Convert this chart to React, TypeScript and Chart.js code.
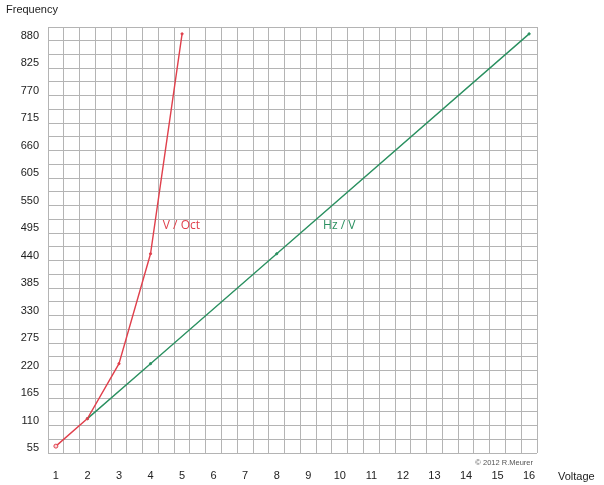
import { useEffect, useRef } from 'react';
import { Chart, registerables } from 'chart.js';

Chart.register(...registerables);

// ---- data ----
const vOctVoltage = [1, 2, 3, 4, 5];
const vOctFreq = [55, 110, 220, 440, 880];
const hzVVoltage = [2, 4, 8, 16];
const hzVFreq = [110, 220, 440, 880];
const xTickLabels = [1, 2, 3, 4, 5, 6, 7, 8, 9, 10, 11, 12, 13, 14, 15, 16];
const yTickLabels = [55, 110, 165, 220, 275, 330, 385, 440, 495, 550, 605, 660, 715, 770, 825, 880];

const seriesNames = ['V / Oct', 'Hz / V'];
const xTitle = 'Voltage';
const yTitle = 'Frequency';
const credit = '\u00a9 2012 R.Meurer';

const RED = '#e0404c';
const GREEN = '#2a9060';
const GRID = '#b4b4b4';
const TEXT = '#222222';

function withMidpoints(vals: number[]): number[] {
  const out: number[] = [];
  vals.forEach((v, i) => {
    out.push(v);
    if (i < vals.length - 1) out.push((v + vals[i + 1]) / 2);
  });
  return out;
}

const xQuarter = (xTickLabels[1] - xTickLabels[0]) / 4;
const yQuarter = (yTickLabels[1] - yTickLabels[0]) / 4;

const textPlugin = {
  id: 'freeTexts',
  afterDraw(chart: any) {
    const { ctx, scales } = chart;
    const x = scales.x;
    const y = scales.y;
    ctx.save();
    // series labels at data positions
    ctx.font = '12px "Open Sans", "Liberation Sans", sans-serif';
    ctx.textBaseline = 'alphabetic';
    ctx.textAlign = 'left';
    ctx.fillStyle = RED;
    ctx.fillText(seriesNames[0], x.getPixelForValue(4.39), y.getPixelForValue(489));
    ctx.fillStyle = GREEN;
    ctx.fillText(seriesNames[1], x.getPixelForValue(9.47), y.getPixelForValue(489));

    // axis titles
    ctx.fillStyle = TEXT;
    ctx.font = '11px "Liberation Sans", Arial, sans-serif';
    ctx.textAlign = 'left';
    ctx.fillText(yTitle, 6, 13);
    ctx.fillText(xTitle, 558, 480);

    // credit
    ctx.fillStyle = '#555555';
    ctx.font = '7.5px "Liberation Sans", Arial, sans-serif';
    ctx.textAlign = 'right';
    ctx.fillText(credit, chart.chartArea.right - 4, chart.chartArea.bottom + 12);
    ctx.restore();
  },
};

export default function App() {
  const canvasRef = useRef<HTMLCanvasElement | null>(null);

  useEffect(() => {
    if (!canvasRef.current) return;
    const chart = new Chart(canvasRef.current, {
      type: 'line',
      data: {
        datasets: [
          {
            label: seriesNames[0],
            data: vOctVoltage.map((v, i) => ({ x: v, y: vOctFreq[i] })),
            borderColor: RED,
            borderWidth: 1.4,
            pointRadius: (c: any) => (c.dataIndex === 0 ? 2 : 1.1),
            pointBorderWidth: 1,
            pointBorderColor: RED,
            pointBackgroundColor: (c: any) => (c.dataIndex === 0 ? '#fbd6da' : RED),
            tension: 0,
          },
          {
            label: seriesNames[1],
            data: hzVVoltage.map((v, i) => ({ x: v, y: hzVFreq[i] })),
            borderColor: GREEN,
            borderWidth: 1.4,
            pointRadius: 1.1,
            pointBorderWidth: 1,
            pointBorderColor: GREEN,
            pointBackgroundColor: GREEN,
            tension: 0,
          },
        ],
      },
      options: {
        animation: false,
        responsive: true,
        maintainAspectRatio: false,
        devicePixelRatio: 1,
        layout: { padding: { top: 27, right: 67, left: 0, bottom: 0 } },
        plugins: {
          legend: { display: false },
          tooltip: { enabled: false },
          title: { display: false },
        },
        scales: {
          x: {
            type: 'linear',
            min: xTickLabels[0] - xQuarter,
            max: xTickLabels[xTickLabels.length - 1] + xQuarter,
            afterBuildTicks: (scale: any) => {
              scale.ticks = withMidpoints(xTickLabels).map((v) => ({ value: v }));
            },
            afterFit: (scale: any) => {
              scale.height = 32;
            },
            grid: { offset: true, color: GRID, lineWidth: 1, drawTicks: false },
            border: { display: false },
            ticks: {
              autoSkip: false,
              maxRotation: 0,
              padding: 16,
              color: TEXT,
              font: { family: '"Liberation Sans", Arial, sans-serif', size: 11 },
              callback: (v: any) => (xTickLabels.includes(Number(v)) ? String(v) : ''),
            },
          },
          y: {
            type: 'linear',
            min: yTickLabels[0] - yQuarter,
            max: yTickLabels[yTickLabels.length - 1] + yQuarter,
            afterBuildTicks: (scale: any) => {
              scale.ticks = withMidpoints(yTickLabels).map((v) => ({ value: v }));
            },
            afterFit: (scale: any) => {
              scale.width = 48;
            },
            grid: { offset: true, color: GRID, lineWidth: 1, drawTicks: false },
            border: { display: false },
            ticks: {
              autoSkip: false,
              padding: 9,
              labelOffset: 2,
              color: TEXT,
              font: { family: '"Liberation Sans", Arial, sans-serif', size: 11 },
              callback: (v: any) => (yTickLabels.includes(Number(v)) ? String(v) : ''),
            },
          },
        },
      },
      plugins: [textPlugin],
    } as any);
    return () => chart.destroy();
  }, []);

  return (
    <div style={{ position: 'fixed', left: 0, top: 0, width: 604, height: 485, background: '#fff' }}>
      <canvas ref={canvasRef} />
    </div>
  );
}
